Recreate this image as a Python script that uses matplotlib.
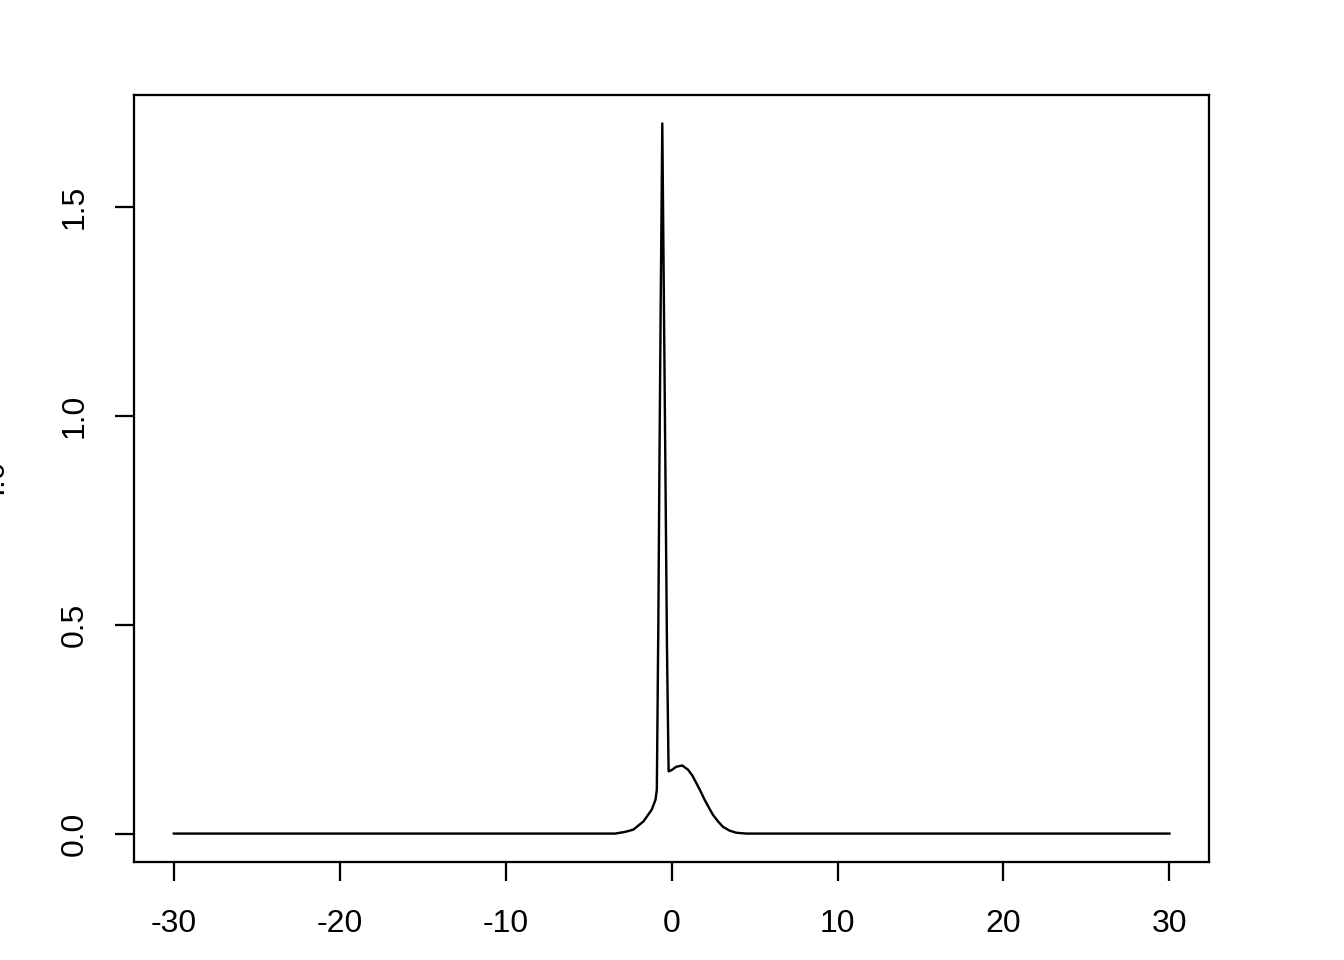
import matplotlib
matplotlib.use("Agg")
import matplotlib.pyplot as plt

# density curve
x = [-30, -3.4, -2.8, -2.3, -1.7, -1.2, -0.97, -0.89, -0.8, -0.73, -0.65,
     -0.56, -0.47, -0.38, -0.28, -0.18, 0.0, 0.28, 0.64, 0.99, 1.25,
     1.49, 1.75, 1.99, 2.25, 2.49, 2.8, 3.1, 3.5, 3.9, 4.5, 30]
y = [0, 0, 0.004, 0.0096, 0.029, 0.057, 0.081, 0.105, 0.5, 0.9, 1.3,
     1.70, 1.3, 0.9, 0.45, 0.149, 0.152, 0.16, 0.163, 0.153, 0.139,
     0.121, 0.101, 0.081, 0.062, 0.045, 0.029, 0.016, 0.007, 0.002, 0, 0]

xticks = [-30, -20, -10, 0, 10, 20, 30]
yticks = [0.0, 0.5, 1.0, 1.5]
ylab = "f.0"

plt.rcParams['font.family'] = ['Liberation Sans', 'DejaVu Sans']
plt.rcParams['font.size'] = 12

fig = plt.figure(figsize=(7, 5), dpi=192)
ax = fig.add_axes([0.0997, 0.1021, 0.8, 0.7989])

ax.plot(x, y, color='black', lw=0.9)

# R style 4% padding
xr = max(x) - min(x)
yr = max(y) - min(y)
ax.set_xlim(min(x) - 0.04 * xr, max(x) + 0.04 * xr)
ax.set_ylim(min(y) - 0.04 * yr, max(y) + 0.04 * yr)

ax.set_xticks(xticks)
ax.set_xticklabels([str(v) for v in xticks])
ax.set_yticks(yticks)
ax.set_yticklabels(["%.1f" % v for v in yticks], rotation=90, va='center')
ax.tick_params(direction='out', length=7.2, width=0.85, color='black')
ax.tick_params(axis='x', pad=10.5)
ax.tick_params(axis='y', pad=9.4)
for s in ax.spines.values():
    s.set_linewidth(0.85)

# y label sits mostly off the left edge, as in the original
fig.text(12 / 1344, 1 - 478.5 / 960, ylab, rotation=90, ha='right', va='center')

fig.savefig("out.png", dpi=192)
